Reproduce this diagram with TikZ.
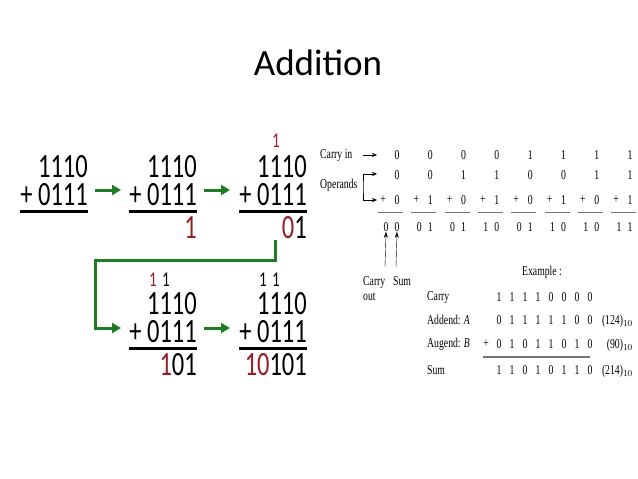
\documentclass[tikz,border=0pt]{standalone}
\usepackage{fontspec}
\usetikzlibrary{arrows.meta}
\setmainfont{Carlito}
\newfontfamily\sumfont[FakeStretch=0.72]{Carlito}
\newfontfamily\tabfont[FakeStretch=0.72]{Liberation Serif}
\definecolor{carryred}{RGB}{150,30,35}
\definecolor{stepgreen}{RGB}{30,125,35}

\begin{document}
\begin{tikzpicture}[x=1pt,y=-1pt,>=Stealth,
	  big/.style={inner sep=0pt,anchor=east,font=\sumfont\fontsize{34}{34}\selectfont},
	  small/.style={inner sep=0pt,font=\sumfont\fontsize{21}{21}\selectfont},
	  tab/.style={inner sep=0pt,font=\tabfont\fontsize{13.5}{15}\selectfont},
	  go/.style={stepgreen,line width=3pt,-{Triangle[length=9pt,width=10pt]}},
	  bar/.style={line width=2.5pt}]
	  \useasboundingbox (0,0) rectangle (638,479);
	  \node[anchor=base,font=\fontsize{37}{37}\selectfont] (title) at (318,75) {Addition};
	  % first row of sums
	  \node[big] (g1a) at (88,167) {1110};
	  \node[big] (g1b) at (88,195) {+ 0111};
	  \node[big] (g2a) at (197,167) {1110};
	  \node[big] (g2b) at (197,195) {+ 0111};
	  \node[big] (g2r) at (197,228) {\textcolor{carryred}{1}};
	  \node[small,carryred] (g3c) at (276,141) {1};
	  \node[big] (g3a) at (307,167) {1110};
	  \node[big] (g3b) at (307,195) {+ 0111};
	  \node[big] (g3r) at (307,228) {\textcolor{carryred}{0}1};
	  \draw[bar] ([yshift=-5pt]g1b.south west) -- ([yshift=-5pt]g1b.south east);
	  \draw[bar] ([yshift=-5pt]g2b.south west) -- ([yshift=-5pt]g2b.south east);
	  \draw[bar] ([yshift=-5pt]g3b.south west) -- ([yshift=-5pt]g3b.south east);
	  % second row of sums
	  \node[small,carryred] (g4c1) at (153,280) {1};
	  \node[small] (g4c2) at (166,280) {1};
	  \node[big] (g4a) at (197,304) {1110};
	  \node[big] (g4b) at (197,332) {+ 0111};
	  \node[big] (g4r) at (197,365) {\textcolor{carryred}{1}01};
	  \node[small] (g5c1) at (263,280) {1};
	  \node[small] (g5c2) at (276,280) {1};
	  \node[big] (g5a) at (307,304) {1110};
	  \node[big] (g5b) at (307,332) {+ 0111};
	  \node[big] (g5r) at (307,365) {\textcolor{carryred}{10}101};
	  \draw[bar] ([yshift=-5pt]g4b.south west) -- ([yshift=-5pt]g4b.south east);
	  \draw[bar] ([yshift=-5pt]g5b.south west) -- ([yshift=-5pt]g5b.south east);
	  % green steps
	  \coordinate (s1a) at (95,190);
	  \coordinate (s1b) at (121,190);
	  \coordinate (s2a) at (204,190);
	  \coordinate (s2b) at (230,190);
	  \coordinate (s3a) at (275,240);
	  \coordinate (s3m) at (95,260);
	  \coordinate (s3b) at (121,328);
	  \coordinate (s4a) at (204,328);
	  \coordinate (s4b) at (230,328);
	  \draw[go] (s1a) -- (s1b);
	  \draw[go] (s2a) -- (s2b);
	  \draw[go] (s3a) |- (s3m) |- (s3b);
	  \draw[go] (s4a) -- (s4b);
	  % one bit table
	  \node[tab,anchor=west] (cin) at (320,155) {Carry in};
	  \node[tab,anchor=west] (opl) at (320,185) {Operands};
	  \coordinate (cinA) at (363,155);
	  \coordinate (cinB) at (377,155);
	  \coordinate (opT) at (377,174);
	  \coordinate (opB) at (377,200);
	  \draw[-{Stealth[length=5pt,width=4pt]}] (cinA) -- (cinB);
	  \draw[{Stealth[length=5pt,width=4pt]}-{Stealth[length=5pt,width=4pt]}] (opT) -| (363,187) |- (opB);
	  \foreach \i/\c/\a/\b/\o/\s in {0/0/0/0/0/0,1/0/0/1/0/1,2/0/1/0/0/1,3/0/1/1/1/0,
	    4/1/0/0/0/1,5/1/0/1/1/0,6/1/1/0/1/0,7/1/1/1/1/1}{
	    \node[tab] (ci\i) at ({397+33.3*\i},155) {\c};
	    \node[tab] (oa\i) at ({397+33.3*\i},175) {\a};
	    \node[tab] (ob\i) at ({397+33.3*\i},200) {\b};
	    \node[tab] (pl\i) at ({383+33.3*\i},200) {+};
	    \node[tab] (co\i) at ({386+33.3*\i},227) {\o};
	    \node[tab] (so\i) at ({397+33.3*\i},227) {\s};
	    \draw[black!55,line width=0.9pt] ({378+33.3*\i},212) -- ({403+33.3*\i},212);
	  }
	  \node[tab,anchor=west,align=left] (cout) at (363,289) {Carry\\out};
	  \node[tab,anchor=west] (sum) at (393,281) {Sum};
	  \coordinate (coA) at (385,267);
	  \coordinate (soA) at (396,267);
	  \draw[-{Stealth[length=6pt,width=4pt]}] (coA) -- (co0.south);
	  \draw[-{Stealth[length=6pt,width=4pt]}] (soA) -- (so0.south);
	  % example
	  \node[tab] (ex) at (542,272) {Example :};
	  \node[tab,anchor=west] (lc) at (427,297) {Carry};
	  \node[tab,anchor=west] (la) at (427,320) {Addend: \textit{A}};
	  \node[tab,anchor=west] (lb) at (427,344) {Augend: \textit{B}};
	  \node[tab,anchor=west] (ls) at (427,370) {Sum};
	  \foreach \b [count=\j from 0] in {1,1,1,1,0,0,0,0}
	    \node[tab] (xc\j) at ({499+13*\j},297) {\b};
	  \foreach \b [count=\j from 0] in {0,1,1,1,1,1,0,0}
	    \node[tab] (xa\j) at ({499+13*\j},320) {\b};
	  \foreach \b [count=\j from 0] in {0,1,0,1,1,0,1,0}
	    \node[tab] (xb\j) at ({499+13*\j},344) {\b};
	  \foreach \b [count=\j from 0] in {1,1,0,1,0,1,1,0}
	    \node[tab] (xs\j) at ({499+13*\j},370) {\b};
	  \node[tab] (xplus) at (486,344) {+};
	  \draw[black!55,line width=1.3pt] (483,357) -- (590,357);
	  \node[tab,anchor=east] (da) at (633,321) {(124)$_{10}$};
	  \node[tab,anchor=east] (db) at (633,345) {(90)$_{10}$};
	  \node[tab,anchor=east] (ds) at (633,371) {(214)$_{10}$};
	\end{tikzpicture}
\end{document}
